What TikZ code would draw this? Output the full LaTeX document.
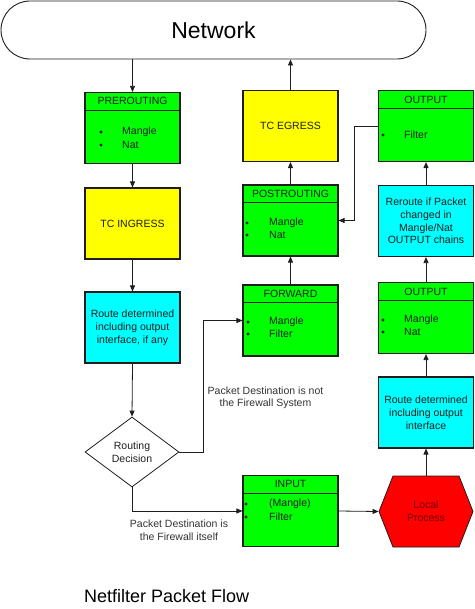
\documentclass[tikz,border=0pt]{standalone}
\usepackage{fontspec}
\setmainfont{Liberation Sans}
\usetikzlibrary{arrows.meta,shapes.geometric,shapes.symbols}
\definecolor{gbox}{HTML}{00FF00}
\definecolor{ybox}{HTML}{FFFF00}
\definecolor{cbox}{HTML}{00FFFF}
\definecolor{rbox}{HTML}{FF0000}
\definecolor{edge}{HTML}{1E1E1E}
\definecolor{ptext}{HTML}{700000}
\tikzset{
  stage/.style={draw=edge, line width=1.1pt, minimum width=95pt, minimum height=71pt, inner sep=0pt,
    font=\fontsize{10.5}{12.8}\selectfont, align=center, text=edge},
  chain/.style={stage, fill=gbox},
  tc/.style={stage, fill=ybox},
  route/.style={stage, fill=cbox},
  head/.style={font=\fontsize{10.5}{12}\selectfont, text=edge, inner sep=0pt},
  entry/.style={font=\fontsize{10.5}{12}\selectfont, text=edge, inner sep=0pt, anchor=west},
  dot/.style={circle, fill=edge, inner sep=0pt, minimum size=3.2pt},
  note/.style={font=\fontsize{10.5}{12.5}\selectfont, text=black!80, align=center},
  arr/.style={draw=edge, line width=0.8pt, -{Triangle[length=6pt,width=5pt]}},
}
\begin{document}
\begin{tikzpicture}[x=1pt, y=-1pt]
  \useasboundingbox (0,0) rectangle (474,609);

  % the network
  \node[draw=edge, line width=0.9pt, rounded corners=29pt, minimum width=425pt, minimum height=58pt,
    font=\fontsize{23}{26}\selectfont] (net) at (213.5,30) {Network};

  % incoming side
  \node[chain] (pre) at (132.5,128) {};
  \draw[edge, line width=0.8pt] ([yshift=-18pt]pre.north west) -- ([yshift=-18pt]pre.north east);
  \node[head] (prehead) at (132.5,101) {PREROUTING};
  \node[dot] (preb1) at (101,132) {};
  \node[dot] (preb2) at (101,145) {};
  \node[entry] (pre1) at (122,132) {Mangle};
  \node[entry] (pre2) at (122,145) {Nat};

  \node[tc] (tcin) at (132.5,223.5) {TC INGRESS};
  \node[route] (route) at (132.5,327.5) {Route determined\\including output\\interface, if any};
  \node[draw=edge, line width=0.8pt, fill=white, diamond, shape aspect=1.34, minimum width=94pt,
    minimum height=70pt, inner sep=0pt, align=center, font=\fontsize{10.5}{12.8}\selectfont, text=edge]
    (dec) at (132,452) {Routing\\Decision};

  % forward path
  \node[chain] (fwd) at (290.5,320.5) {};
  \draw[edge, line width=0.8pt] ([yshift=-18pt]fwd.north west) -- ([yshift=-18pt]fwd.north east);
  \node[head] (fwdhead) at (290.5,294) {FORWARD};
  \node[dot] (fwdb1) at (248,322) {};
  \node[dot] (fwdb2) at (248,334) {};
  \node[entry] (fwd1) at (269,322) {Mangle};
  \node[entry] (fwd2) at (269,334) {Filter};

  \node[chain] (post) at (290.5,220.5) {};
  \draw[edge, line width=0.8pt] ([yshift=-18pt]post.north west) -- ([yshift=-18pt]post.north east);
  \node[head] (posthead) at (290.5,194) {POSTROUTING};
  \node[dot] (postb1) at (247,223) {};
  \node[dot] (postb2) at (247,235) {};
  \node[entry] (post1) at (269,223) {Mangle};
  \node[entry] (post2) at (269,235) {Nat};

  \node[tc] (tceg) at (290.5,126) {TC EGRESS};

  % local path
  \node[chain] (input) at (290.5,511) {};
  \draw[edge, line width=0.8pt] ([yshift=-18pt]input.north west) -- ([yshift=-18pt]input.north east);
  \node[head] (inhead) at (290.5,484) {INPUT};
  \node[dot] (inb1) at (246,504) {};
  \node[dot] (inb2) at (246,517) {};
  \node[entry] (in1) at (269,504) {(Mangle)};
  \node[entry] (in2) at (269,517) {Filter};

  \node[signal, signal to=east and west, signal pointer angle=137, fill=rbox, draw=edge, line width=0.8pt,
    minimum width=94pt, minimum height=71pt, inner sep=0pt, align=center,
    font=\fontsize{10.5}{12.8}\selectfont, text=ptext] (local) at (426,511.5) {Local\\Process};

  \node[route] (route2) at (426,412.5) {Route determined\\including output\\interface};

  \node[chain] (outlow) at (426,318) {};
  \draw[edge, line width=0.8pt] ([yshift=-18pt]outlow.north west) -- ([yshift=-18pt]outlow.north east);
  \node[head] (outlowhead) at (426,292) {OUTPUT};
  \node[dot] (outlowb1) at (383,320) {};
  \node[dot] (outlowb2) at (383,332) {};
  \node[entry] (outlow1) at (404,320) {Mangle};
  \node[entry] (outlow2) at (404,332) {Nat};

  \node[route] (reroute) at (426,221) {Reroute if Packet\\changed in\\Mangle/Nat\\OUTPUT chains};

  \node[chain] (outup) at (426,126) {};
  \draw[edge, line width=0.8pt] ([yshift=-18pt]outup.north west) -- ([yshift=-18pt]outup.north east);
  \node[head] (outuphead) at (426,100) {OUTPUT};
  \node[dot] (outupb1) at (383,135) {};
  \node[entry] (outup1) at (404,135) {Filter};

  % connectors
  \draw[arr] (net.south -| pre.north) -- (pre.north);
  \draw[arr] (pre.south) -- (tcin.north);
  \draw[arr] (tcin.south) -- (route.north);
  \draw[arr] (route.south) -- (dec.north);
  \draw[arr] (dec.east) -- ++(24,0) |- (fwd.west);
  \draw[arr] (dec.south) |- (input.west);
  \draw[arr] (input.east) -- (local.west);
  \draw[arr] (local.north) -- (route2.south);
  \draw[arr] (route2.north) -- (outlow.south);
  \draw[arr] (outlow.north) -- (reroute.south);
  \draw[arr] (reroute.north) -- (outup.south);
  \draw[arr] (outup.west) -- ++(-24,0) |- (post.east);
  \draw[arr] (fwd.north) -- (post.south);
  \draw[arr] (post.north) -- (tceg.south);
  \draw[arr] (tceg.north) -- (tceg.north |- net.south);

  % labels
  \node[note] (notfw) at (265.5,398) {Packet Destination is not\\the Firewall System};
  \node[note] (isfw) at (179,530) {Packet Destination is\\the Firewall itself};
  \node[font=\fontsize{18}{20}\selectfont, anchor=west, inner sep=0pt] (title) at (84,596) {Netfilter Packet Flow};
\end{tikzpicture}
\end{document}
